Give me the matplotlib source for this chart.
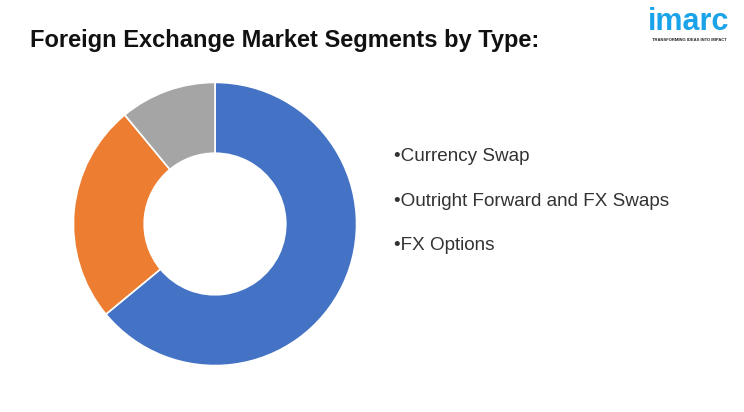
import matplotlib.pyplot as plt

plt.rcParams['font.family'] = ['Liberation Sans', 'DejaVu Sans']

segments = ['Currency Swap', 'Outright Forward and FX Swaps', 'FX Options']
shares = [64, 25, 11]
colors = ['#4472C4', '#ED7D31', '#A5A5A5']

W, H = 744, 412
fig = plt.figure(figsize=(W / 100, H / 100), dpi=100)

# donut: center (215, 224) px, radius 143 px
cx, cy, r = 215, 224, 143
ax = fig.add_axes([(cx - r) / W, (H - cy - r) / H, 2 * r / W, 2 * r / H])
ax.pie(shares, colors=colors, startangle=90, counterclock=False,
       radius=1, wedgeprops=dict(width=0.5, edgecolor='white', linewidth=1.2))
ax.set_xlim(-1.01, 1.01)
ax.set_ylim(-1.01, 1.01)
ax.set_aspect('equal')
ax.axis('off')

fig.text(30 / W, 1 - 41 / H, 'Foreign Exchange Market Segments by Type:',
         fontsize=17, fontweight='bold', color='#111111', va='center', ha='left')

for i, name in enumerate(segments):
    fig.text(394 / W, 1 - (156 + 45 * i) / H, '\u2022' + name,
             fontsize=13.6, color='#333333', va='center', ha='left')

# logo
fig.text(689 / W, 1 - 22 / H, 'imarc', fontsize=22, color='#1AA3E8',
         ha='center', va='center', fontweight='bold')
fig.text(689 / W, 1 - 40 / H, 'TRANSFORMING IDEAS INTO IMPACT', fontsize=3.0,
         color='#222222', ha='center', va='center', fontweight='bold')

fig.savefig('out.png', dpi=100)
